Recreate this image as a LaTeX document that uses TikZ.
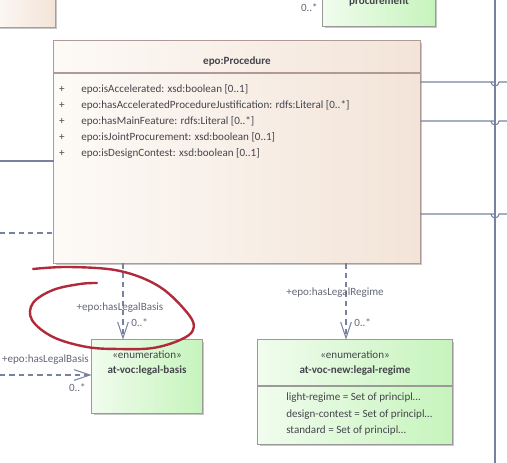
\documentclass[tikz,border=0pt]{standalone}
\usepackage{fontspec}
\setmainfont{Carlito}
\usetikzlibrary{arrows.meta,fit}

\definecolor{procL}{HTML}{FDFAF7}
\definecolor{procR}{HTML}{F3E4D8}
\definecolor{procEdge}{HTML}{B09A98}
\definecolor{enumL}{HTML}{F1FCEE}
\definecolor{enumR}{HTML}{C6F4BC}
\definecolor{enumEdge}{HTML}{9C9A98}
\definecolor{linkCol}{HTML}{7882A0}
\definecolor{txtCol}{HTML}{45454D}
\definecolor{lblCol}{HTML}{646878}
\definecolor{penRed}{HTML}{B02A3A}

\tikzset{
  link/.style={draw=linkCol, line width=0.8pt},
  dashlink/.style={link, dash pattern=on 4pt off 3pt},
  openhead/.style={-{Straight Barb[length=12pt, width=8pt, line width=0.8pt]}},
  lbl/.style={text=lblCol, font=\fontsize{8.3}{9}\selectfont, inner sep=0pt},
  txt/.style={text=txtCol, font=\fontsize{8.3}{9}\selectfont, inner sep=0pt},
  hdr/.style={text=txtCol, font=\fontsize{8.3}{9}\selectfont\bfseries, inner sep=0pt},
  shadowbox/.style={fill=black!22},
}

\begin{document}
\begin{tikzpicture}[x=0.75pt, y=-0.75pt]
  \useasboundingbox (0,0) rectangle (507,463);

  % right side vertical line
  \coordinate (railTop) at (495,0);
  \coordinate (railBot) at (495,463);
  \draw[link] (railTop) -- (railBot);

  % top left box (cut off)
  \node[fit={(-10,-10) (55,27)}, inner sep=0pt] (leftBox) {};
  \fill[shadowbox] (-8,-8) rectangle (57,29);
  \shade[left color=procL, right color=procR] (leftBox.north west) rectangle (leftBox.south east);
  \draw[procEdge, line width=0.8pt] (leftBox.north west) rectangle (leftBox.south east);

  % top right box: procurement (cut off)
  \node[fit={(323,-10) (435,26)}, inner sep=0pt] (procBox) {};
  \fill[shadowbox] (325,-8) rectangle (437,28);
  \shade[left color=enumL, right color=enumR] (procBox.north west) rectangle (procBox.south east);
  \draw[enumEdge, line width=0.8pt] (procBox.north west) rectangle (procBox.south east);
  \node[hdr] (procName) at (379,2) {procurement};
  \node[lbl, anchor=east] (procMult) at (318,8) {0..*};

  % epo:Procedure class
  \node[fit={(54,41) (420,263)}, inner sep=0pt] (proc) {};
  \fill[shadowbox] (56,43) rectangle (422,265);
  \shade[left color=procL, right color=procR] (proc.north west) rectangle (proc.south east);
  \draw[procEdge, line width=0.8pt] (proc.north west) rectangle (proc.south east);
  \draw[procEdge, line width=0.8pt] (proc.west |- 0,73) -- (proc.east |- 0,73);
  \node[hdr] (procTitle) at (237,61) {epo:Procedure};
  \foreach \y/\attr [count=\i] in {89/{epo:isAccelerated: xsd:boolean [0..1]},
      105/{epo:hasAcceleratedProcedureJustification: rdfs:Literal [0..*]},
      121/{epo:hasMainFeature: rdfs:Literal [0..*]},
      137/{epo:isJointProcurement: xsd:boolean [0..1]},
      153/{epo:isDesignContest: xsd:boolean [0..1]}} {
    \node[txt] (plus\i) at (62,\y) {+};
    \node[txt, anchor=west] (attr\i) at (81,\y) {\attr};
  }

  % lines leaving to the right, hopping over the rail
  \foreach \y in {82,121,214} {
    \draw[link] (proc.east |- 0,\y) -- (railTop |- 0,\y) ++(-4,0) arc (180:0:4) -- (507,\y);
  }

  % lines coming in from the left
  \coordinate (inSolid) at (0,161);
  \coordinate (inDash) at (0,233);
  \draw[link] (inSolid) -- (proc.west |- inSolid);
  \draw[dashlink] (inDash) -- (proc.west |- inDash);

  % at-voc:legal-basis enumeration
  \node[fit={(92,340) (202,413)}, inner sep=0pt] (basis) {};
  \fill[shadowbox] (94,342) rectangle (204,415);
  \shade[left color=enumL, right color=enumR] (basis.north west) rectangle (basis.south east);
  \draw[enumEdge, line width=0.8pt] (basis.north west) rectangle (basis.south east);
  \node[txt] (basisStereo) at (147,355) {«enumeration»};
  \node[hdr] (basisName) at (147,371) {at-voc:legal-basis};

  % at-voc-new:legal-regime enumeration
  \node[fit={(258,340) (452,444)}, inner sep=0pt] (regime) {};
  \fill[shadowbox] (260,342) rectangle (454,446);
  \shade[left color=enumL, right color=enumR] (regime.north west) rectangle (regime.south east);
  \draw[enumEdge, line width=0.8pt] (regime.north west) rectangle (regime.south east);
  \draw[enumEdge, line width=0.8pt] (regime.west |- 0,386) -- (regime.east |- 0,386);
  \node[txt] (regimeStereo) at (355,355) {«enumeration»};
  \node[hdr] (regimeName) at (355,371) {at-voc-new:legal-regime};
  \node[txt, anchor=west] (lit1) at (286,398) {light-regime = Set of principl\ldots};
  \node[txt, anchor=west] (lit2) at (286,415) {design-contest = Set of principl\ldots};
  \node[txt, anchor=west] (lit3) at (286,431) {standard = Set of principl\ldots};

  % associations
  \draw[dashlink, openhead] (proc.south -| 123,0) -- (basis.north -| 123,0);
  \node[lbl] (basisRole) at (120,308) {+epo:hasLegalBasis};
  \node[lbl, anchor=west] (basisMult) at (131,323) {0..*};

  \draw[dashlink, openhead] (proc.south -| 346,0) -- (regime.north -| 346,0);
  \node[lbl] (regimeRole) at (335,293) {+epo:hasLegalRegime};
  \node[lbl, anchor=west] (regimeMult) at (354,323) {0..*};

  \coordinate (inBasis) at (0,375);
  \draw[dashlink, openhead] (inBasis) -- (basis.west |- inBasis);
  \node[lbl, anchor=east] (leftRole) at (89,360) {+epo:hasLegalBasis};
  \node[lbl, anchor=east] (leftMult) at (86,388) {0..*};

  % red freehand loop
  \draw[penRed, line width=1.8pt, line cap=round] plot[smooth, tension=0.6] coordinates {
    (33,269) (70,267) (120,271) (160,287) (189,315) (193,330) (180,340)
    (153,348) (120,349) (87,347) (53,337) (32,320) (33,303) (53,290) (80,284) (97,283)};
\end{tikzpicture}
\end{document}
